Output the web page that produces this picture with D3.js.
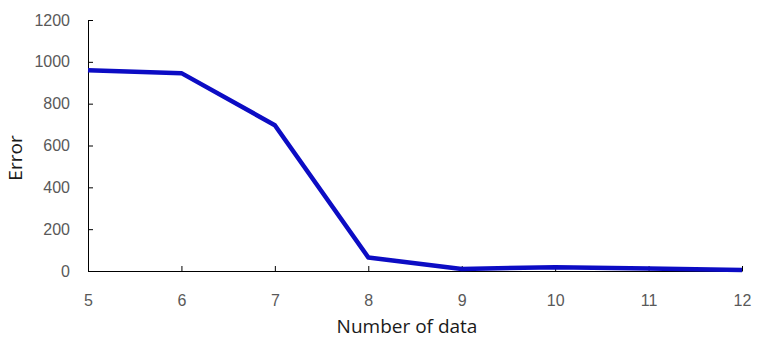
<!DOCTYPE html>
<html>
<head>
<meta charset="utf-8">
<script src="https://cdn.jsdelivr.net/npm/d3@7"></script>
<style>
  body { margin: 0; background: #fff; }
  svg { display: block; font-family: "Open Sans", "Liberation Sans", sans-serif; }
</style>
</head>
<body>
<svg id="chart" width="761" height="350"></svg>
<script>
var counts = [5, 6, 7, 8, 9, 10, 11, 12];
var errors = [960, 946, 697, 65, 10, 18, 12, 5];
var yTicks = [0, 200, 400, 600, 800, 1000, 1200];

var svg = d3.select("#chart");

var x = d3.scaleLinear().domain([5, 12]).range([88, 742]);
var y = d3.scaleLinear().domain([0, 1200]).range([271, 20]);

// y axis, ticks point inward
var yAxis = svg.append("g")
    .attr("transform", "translate(88,0)")
    .call(d3.axisRight(y).tickValues(yTicks).tickSize(5).tickSizeOuter(0).tickFormat(d3.format("d")));
yAxis.select(".domain").attr("stroke", "#000");
yAxis.selectAll(".tick line").attr("stroke", "#000");
yAxis.selectAll(".tick text")
    .attr("x", -18)
    .attr("text-anchor", "end")
    .attr("fill", "#595959")
    .style("font-size", "16px");

// x axis
var xAxis = svg.append("g")
    .attr("transform", "translate(0,271)")
    .call(d3.axisTop(x).tickValues(counts).tickSize(5).tickSizeOuter(0).tickFormat(d3.format("d")));
xAxis.select(".domain").attr("stroke", "#000");
xAxis.selectAll(".tick line").attr("stroke", "#000");
xAxis.selectAll(".tick text")
    .attr("y", 35)
    .attr("dy", 0)
    .attr("fill", "#595959")
    .style("font-size", "16px");

var line = d3.line()
    .x(function(d, i) { return x(counts[i]); })
    .y(function(d) { return y(d); });

svg.append("path")
    .datum(errors)
    .attr("d", line)
    .attr("fill", "none")
    .attr("stroke", "#0c0cc4")
    .attr("stroke-width", 4.5)
    .attr("stroke-linejoin", "round");

svg.append("text")
    .attr("x", 407)
    .attr("y", 333)
    .attr("text-anchor", "middle")
    .attr("fill", "#1a1a1a")
    .style("font-size", "19px")
    .text("Number of data");

svg.append("text")
    .attr("transform", "translate(22,158) rotate(-90)")
    .attr("text-anchor", "middle")
    .attr("fill", "#1a1a1a")
    .style("font-size", "19px")
    .text("Error");
</script>
</body>
</html>
